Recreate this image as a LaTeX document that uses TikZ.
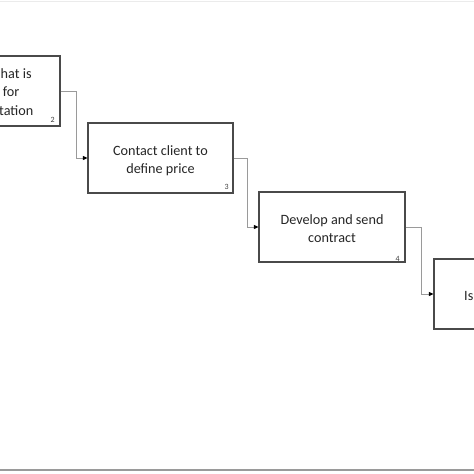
\documentclass[tikz,border=0pt]{standalone}
\usepackage{fontspec}
\setmainfont{Carlito}
\usetikzlibrary{arrows.meta}
\definecolor{boxline}{HTML}{4A4A4A}
\definecolor{connline}{HTML}{9A9A9A}
\begin{document}
\begin{tikzpicture}[x=1pt,y=-1pt,
  procbox/.style={draw=boxline, line width=1.1pt, fill=white, minimum width=146pt, minimum height=70pt, inner sep=0pt},
  boxtext/.style={font=\fontsize{14.2}{18.5}\selectfont, text=black!85, align=center, inner sep=0pt},
  numtext/.style={font=\fontsize{8}{9}\selectfont, text=black!75, inner sep=0pt},
  conn/.style={draw=connline, line width=0.8pt, -{Triangle[length=4.5pt,width=4pt,black]}}]
\useasboundingbox (0,0) rectangle (474,474);
\clip (0,0) rectangle (474,474);
\fill[white] (0,0) rectangle (474,474);
\draw[black!8, line width=1.5pt] (0,1.5) -- (474,1.5);
\draw[connline, line width=2pt] (0,470) -- (474,470);
% boxes
\node[procbox, minimum width=100pt] (b1) at (10,91) {};
\node[procbox, minimum width=145pt] (b2) at (160.5,158) {};
\node[procbox] (b3) at (332,227) {};
\node[procbox] (b4) at (507,294) {};
% box texts
\node[boxtext, anchor=west] (t1a) at (0.5,73.5) {hat is};
\node[boxtext] (t1b) at (11,92) {for};
\node[boxtext, anchor=east] (t1c) at (33.5,110.5) {tation};
\node[boxtext] (t2) at (160.5,160.5) {Contact client to\\define price};
\node[boxtext] (t3) at (332,228.5) {Develop and send\\contract};
\node[boxtext, anchor=east] (t4) at (473.5,296) {Is};
% numbers
\node[numtext, anchor=base east] (n1) at (55,122.5) {2};
\node[numtext, anchor=base east] (n2) at (229,189) {3};
\node[numtext, anchor=base east] (n3) at (400,261.5) {4};
% connectors
\draw[conn] (b1.east) -- ++(16,0) |- (b2.west);
\draw[conn] (b2.east) -- ++(14,0) |- (b3.west);
\draw[conn] (b3.east) -- ++(16,0) |- (b4.west);
\end{tikzpicture}
\end{document}
